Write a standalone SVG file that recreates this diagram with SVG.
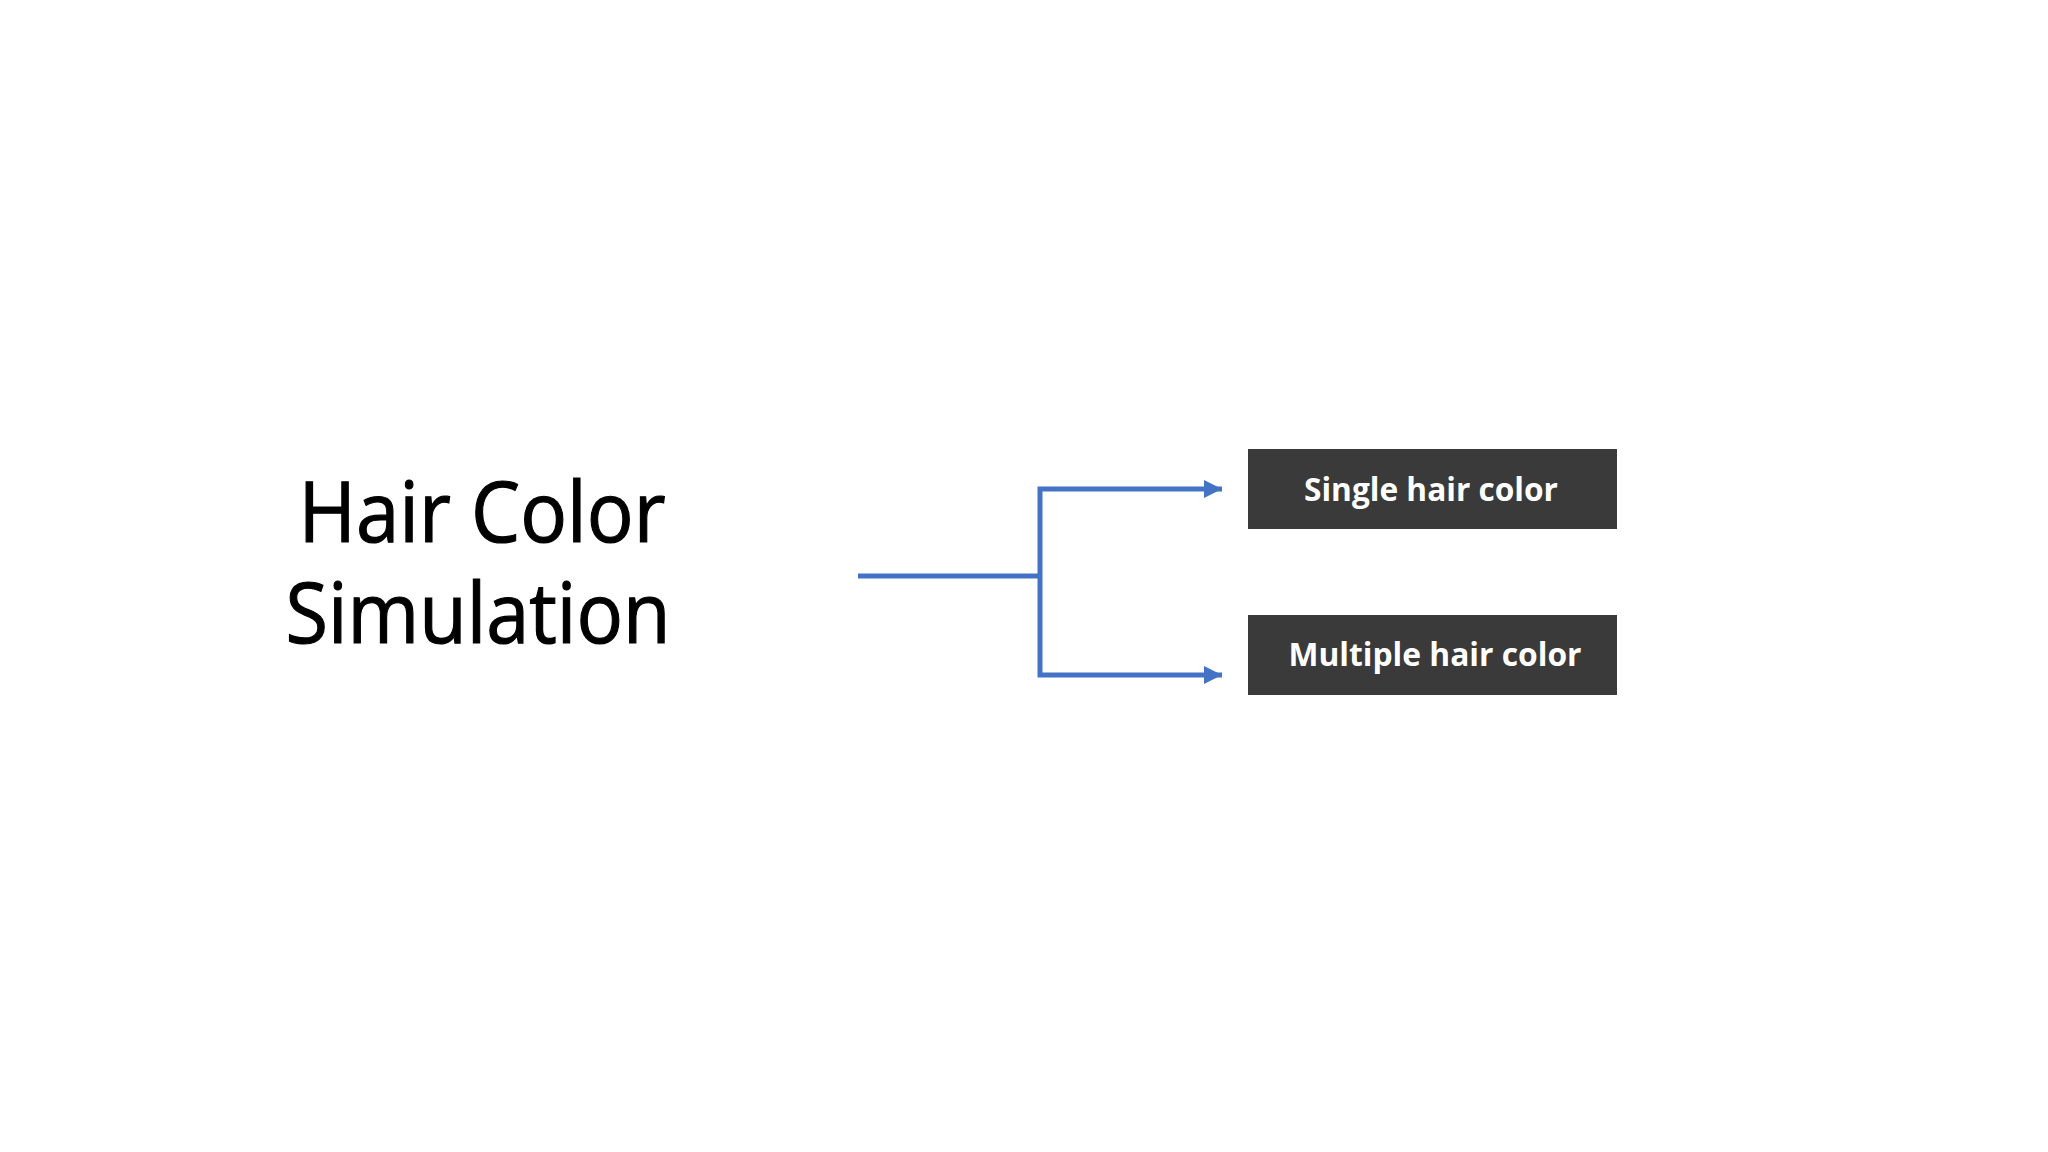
<svg xmlns="http://www.w3.org/2000/svg" width="2048" height="1152" viewBox="0 0 2048 1152">
<style>
.title{font-family:"Open Sans","Liberation Sans",sans-serif;font-size:85px;fill:#000;stroke:#000;stroke-width:1.2;text-anchor:middle}
.box{fill:#3a3a3a}
.lbl{font-family:"Open Sans","Liberation Sans",sans-serif;font-weight:700;font-size:33px;fill:#fff;text-anchor:middle}
.conn{fill:none;stroke:#4472C4;stroke-width:5}
</style>
<defs>
<marker id="arr" markerWidth="18" markerHeight="18" refX="18" refY="9" orient="auto" markerUnits="userSpaceOnUse">
<path d="M0,0 L18,9 L0,18 Z" fill="#4472C4"/>
</marker>
</defs>
<rect width="2048" height="1152" fill="#ffffff"/>
<g id="title">
<text class="title" x="482" y="542" textLength="367" lengthAdjust="spacingAndGlyphs">Hair Color</text>
<text class="title" x="478" y="643" textLength="385" lengthAdjust="spacingAndGlyphs">Simulation</text>
</g>
<g id="connectors">
<path class="conn" d="M858,576 H1040"/>
<path class="conn" d="M1040,576 V489 H1222" marker-end="url(#arr)"/>
<path class="conn" d="M1040,576 V675 H1222" marker-end="url(#arr)"/>
</g>
<g id="single">
<rect class="box" x="1248" y="449" width="369" height="80"/>
<text class="lbl" x="1431" y="501" textLength="254" lengthAdjust="spacingAndGlyphs">Single hair color</text>
</g>
<g id="multiple">
<rect class="box" x="1248" y="615" width="369" height="80"/>
<text class="lbl" x="1435" y="666" textLength="293" lengthAdjust="spacingAndGlyphs">Multiple hair color</text>
</g>
</svg>
